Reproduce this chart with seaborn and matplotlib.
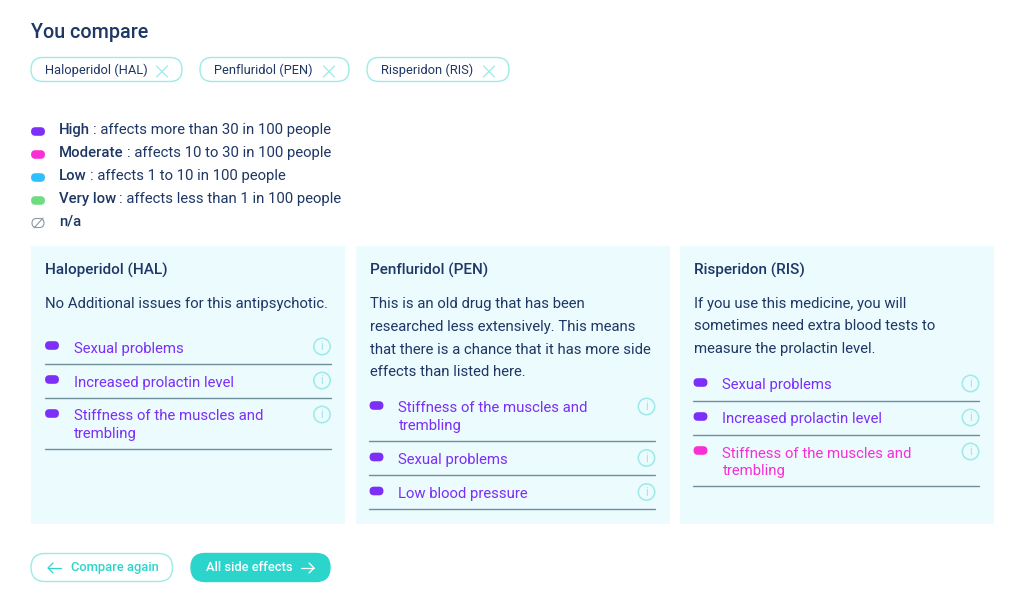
import matplotlib
matplotlib.use("Agg")
import matplotlib.pyplot as plt
from matplotlib.patches import FancyBboxPatch, Circle, Rectangle
from matplotlib.path import Path
import pandas as pd
import seaborn as sns

# legend
levels = ["High", "Moderate", "Low", "Very low"]
level_notes = ["affects more than 30 in 100 people", "affects 10 to 30 in 100 people",
               "affects 1 to 10 in 100 people", "affects less than 1 in 100 people"]
level_colors = ["#7B2FF7", "#F92FD6", "#2EBFFF", "#6EDC82"]

# drugs and their text
drugs = ["Haloperidol (HAL)", "Penfluridol (PEN)", "Risperidon (RIS)"]
drug_notes = [
    ["No Additional issues for this antipsychotic."],
    ["This is an old drug that has been", "researched less extensively. This means",
     "that there is a chance that it has more side", "effects than listed here."],
    ["If you use this medicine, you will", "sometimes need extra blood tests to",
     "measure the prolactin level."],
]
effects = [
    [["Sexual problems"], ["Increased prolactin level"], ["Stiffness of the muscles and", "trembling"]],
    [["Stiffness of the muscles and", "trembling"], ["Sexual problems"], ["Low blood pressure"]],
    [["Sexual problems"], ["Increased prolactin level"], ["Stiffness of the muscles and", "trembling"]],
]
effect_levels = [
    ["High", "High", "High"],
    ["High", "High", "High"],
    ["High", "High", "Moderate"],
]

NAVY = "#1E3765"
CARD = "#EBFBFE"
TEAL = "#2CD5CC"
OUTLINE = "#9CEBE8"
RULE = "#6F8F99"
FONT = "Roboto"
BASE = 10.75

sns.set_theme(style="white")
plt.rcParams["font.family"] = [FONT, "DejaVu Sans"]

fig, ax = plt.subplots(figsize=(10.24, 5.99), dpi=100)
ax.set_position([0, 0, 1, 1])
ax.set_xlim(0, 1024)
ax.set_ylim(599, 0)
ax.axis("off")


def label(x, y, s, size=BASE, color=NAVY, weight="normal", ha="left"):
    return ax.text(x, y, s, fontsize=size, color=color, fontweight=weight, ha=ha, va="center_baseline")


def pill_box(x0, y0, x1, y1, face, edge):
    h = y1 - y0
    ax.add_patch(FancyBboxPatch((x0 + h / 2, y0 + h / 2), x1 - x0 - h, 0,
                                boxstyle=f"round,pad={h / 2},rounding_size={h / 2}",
                                fc=face, ec=edge, lw=1, mutation_aspect=1))


def cross(cx, cy, r=5.5):
    ax.plot([cx - r, cx + r], [cy - r, cy + r], color=OUTLINE, lw=0.9)
    ax.plot([cx - r, cx + r], [cy + r, cy - r], color=OUTLINE, lw=0.9)


def arrow(x0, x1, y, color):
    back = 5 if x1 > x0 else -5
    ax.plot([x0, x1], [y, y], color=color, lw=0.9)
    ax.plot([x1 - back, x1, x1 - back], [y - 5, y, y + 5], color=color, lw=0.9)


label(31, 31, "You compare", size=14.2, weight="medium")

# chips at the top
chip_spans = [(31, 182), (200, 349), (367, 509)]
chip_cross = [162, 329, 489]
for drug, (x0, x1), cx in zip(drugs, chip_spans, chip_cross):
    pill_box(x0, 57.5, x1, 81.5, "white", OUTLINE)
    label(x0 + 14, 68.5, drug, size=9.3)
    cross(cx, 71.5)

# severity marker shared by the legend and the card rows
pill_marker = Path([(-0.38, -0.62), (0.38, -0.62), (1.0, -0.62), (1.0, 0), (1.0, 0.62), (0.38, 0.62),
                    (-0.38, 0.62), (-1.0, 0.62), (-1.0, 0), (-1.0, -0.62), (-0.38, -0.62), (-0.38, -0.62)],
                   [Path.MOVETO, Path.LINETO, Path.CURVE3, Path.CURVE3, Path.CURVE3, Path.CURVE3,
                    Path.LINETO, Path.CURVE3, Path.CURVE3, Path.CURVE3, Path.CURVE3, Path.CLOSEPOLY])
palette = dict(zip(levels, level_colors))
marks = []

# legend
legend_ys = [128.5, 151.5, 174.5, 197.5]
for lev, note, y in zip(levels, level_notes, legend_ys):
    marks.append({"x": 38, "y": y + 3, "level": lev})
    t = label(59, y, lev, weight="medium")
    bb = t.get_window_extent(fig.canvas.get_renderer())
    label(bb.x1 + 3, y, ": " + note)
label(59, 220, "n/a", weight="medium")
ax.add_patch(FancyBboxPatch((36.5, 223), 3, 0, boxstyle="round,pad=4.5,rounding_size=4.5",
                            fc="white", ec="#8A9AA5", lw=0.8))
ax.plot([34, 43], [228, 218], color="#8A9AA5", lw=0.8)

# cards
card_lefts = [31, 355.5, 679.5]
card_width = [314, 314.5, 314.5]
first_rows = [347, 407, 384]
for i, drug in enumerate(drugs):
    left = card_lefts[i]
    ax.add_patch(Rectangle((left, 246), card_width[i], 278, fc=CARD, ec="none", zorder=0))
    label(left + 14, 269, drug, size=11, weight="medium")
    for line, y in zip(drug_notes[i], [302.5, 325, 348, 370.5]):
        label(left + 14, y, line)
    y = first_rows[i]
    for lines, lev in zip(effects[i], effect_levels[i]):
        marks.append({"x": left + 21, "y": y - 1.5, "level": lev})
        ax.add_patch(Circle((left + 291, y - 0.5), 8.2, fc="none", ec=OUTLINE, lw=1.1))
        ax.text(left + 291, y - 0.5, "i", color=OUTLINE, fontsize=8.5, ha="center", va="center")
        for k, line in enumerate(lines):
            label(left + 43, y + k * 17.5, line, color=palette[lev])
        y += (len(lines) - 1) * 17.5 + 17
        ax.plot([left + 13.5, left + 299.5], [y - 0.5, y - 0.5], color=RULE, lw=1)
        y += 17

marks = pd.DataFrame(marks)
sns.scatterplot(data=marks, x="x", y="y", hue="level", hue_order=levels, palette=palette,
                marker=pill_marker, s=100, linewidth=0, legend=False, ax=ax, zorder=3)
ax.set_xlabel("")
ax.set_ylabel("")

# buttons
pill_box(31, 553.5, 172.5, 581.5, "white", OUTLINE)
arrow(61, 48, 568, TEAL)
label(71, 566, "Compare again", size=9.3, color=TEAL, weight="medium")
pill_box(191, 553.5, 330, 581.5, TEAL, TEAL)
label(206, 566, "All side effects", size=9.3, color="white", weight="medium")
arrow(301, 314, 568, "white")

fig.savefig("out.png", dpi=100)
